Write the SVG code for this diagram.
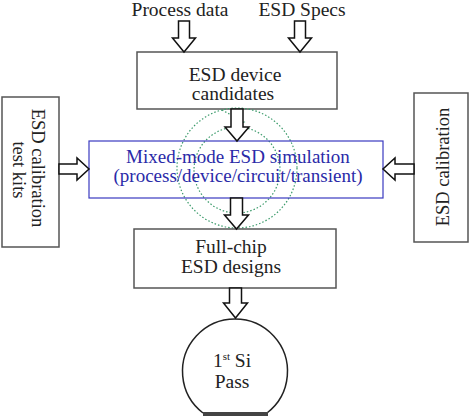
<svg xmlns="http://www.w3.org/2000/svg" width="474" height="416" viewBox="0 0 474 416">
<style>
.box{fill:#fff;stroke:#555;stroke-width:1.5}
.blue{fill:none;stroke:#3a3ac0;stroke-width:1.2}
.arr{fill:#fff;stroke:#111;stroke-width:1.5;stroke-linejoin:miter}
.t{font-family:"Liberation Serif","Times New Roman",serif;font-size:19.5px;fill:#222;text-anchor:middle}
.tr{font-family:"Liberation Serif","Times New Roman",serif;font-size:18.5px;fill:#222;text-anchor:middle}
.tb{font-family:"Liberation Serif","Times New Roman",serif;font-size:19px;fill:#2a2aa8;text-anchor:middle}
.dot{fill:none;stroke:#3a9a6a;stroke-width:1.2;stroke-dasharray:1.5 2}
</style>
<rect width="474" height="416" fill="#fff"/>
<g id="inputs">
<text class="t" x="180" y="16">Process data</text>
<text class="t" x="302" y="16">ESD Specs</text>
</g>
<g id="candidates">
<rect class="box" x="137" y="52" width="200" height="57"/>
<text class="t" x="235" y="81">ESD device</text>
<text class="t" x="233" y="100">candidates</text>
</g>
<g id="cycle">
<circle class="dot" cx="237" cy="168" r="60"/>
<circle class="dot" cx="237" cy="170" r="43"/>
<path class="dot" d="M222,110 L244,122 L230,128"/>
</g>
<g id="simulation">
<rect class="blue" x="89" y="141" width="294" height="57"/>
<text class="tb" x="238" y="163">Mixed-mode ESD simulation</text>
<text class="tb" x="238" y="182">(process/device/circuit/transient)</text>
</g>
<g id="testkits">
<rect class="box" x="2" y="97" width="57" height="150"/>
<text class="tr" transform="translate(38,168) rotate(90)" x="0" y="6">ESD calibration</text>
<text class="tr" transform="translate(19,170) rotate(90)" x="0" y="6">test kits</text>
</g>
<g id="calibration">
<rect class="box" x="414" y="93" width="54" height="149"/>
<text class="tr" transform="translate(443,167) rotate(-90)" x="0" y="6">ESD calibration</text>
</g>
<g id="fullchip">
<rect class="box" x="134" y="229" width="202" height="59"/>
<text class="t" x="231" y="253">Full-chip</text>
<text class="t" x="231" y="273">ESD designs</text>
</g>
<g id="silicon">
<path d="M203,413 A52.5,52.5 0 1 1 267,413" fill="#fff" stroke="#222" stroke-width="1.5"/>
<rect x="203" y="412" width="65" height="4" fill="#444"/>
<text class="t" x="232" y="367">1<tspan font-size="11" dy="-7">st</tspan><tspan dy="7"> Si</tspan></text>
<text class="t" x="232" y="388">Pass</text>
</g>
<g id="connectors">
<path class="arr" d="M178.5,21 H189.5 V38 H195.5 L184,52 L172.5,38 H178.5 Z"/>
<path class="arr" d="M294.5,21 H305.5 V38 H311.5 L300,52 L288.5,38 H294.5 Z"/>
<path class="arr" d="M231,109 H243 V127 H249 L237,141 L225,127 H231 Z"/>
<path class="arr" d="M230.5,198 H242.5 V215 H248.5 L236.5,229 L224.5,215 H230.5 Z"/>
<path class="arr" d="M229.5,288 H241.5 V303 H247.5 L235.5,318 L223.5,303 H229.5 Z"/>
<path class="arr" d="M59,164 H77 V158 L89,169 L77,180 V174 H59 Z"/>
<path class="arr" d="M414,164 H395 V158 L383,169 L395,180 V174 H414 Z"/>
</g>
</svg>
